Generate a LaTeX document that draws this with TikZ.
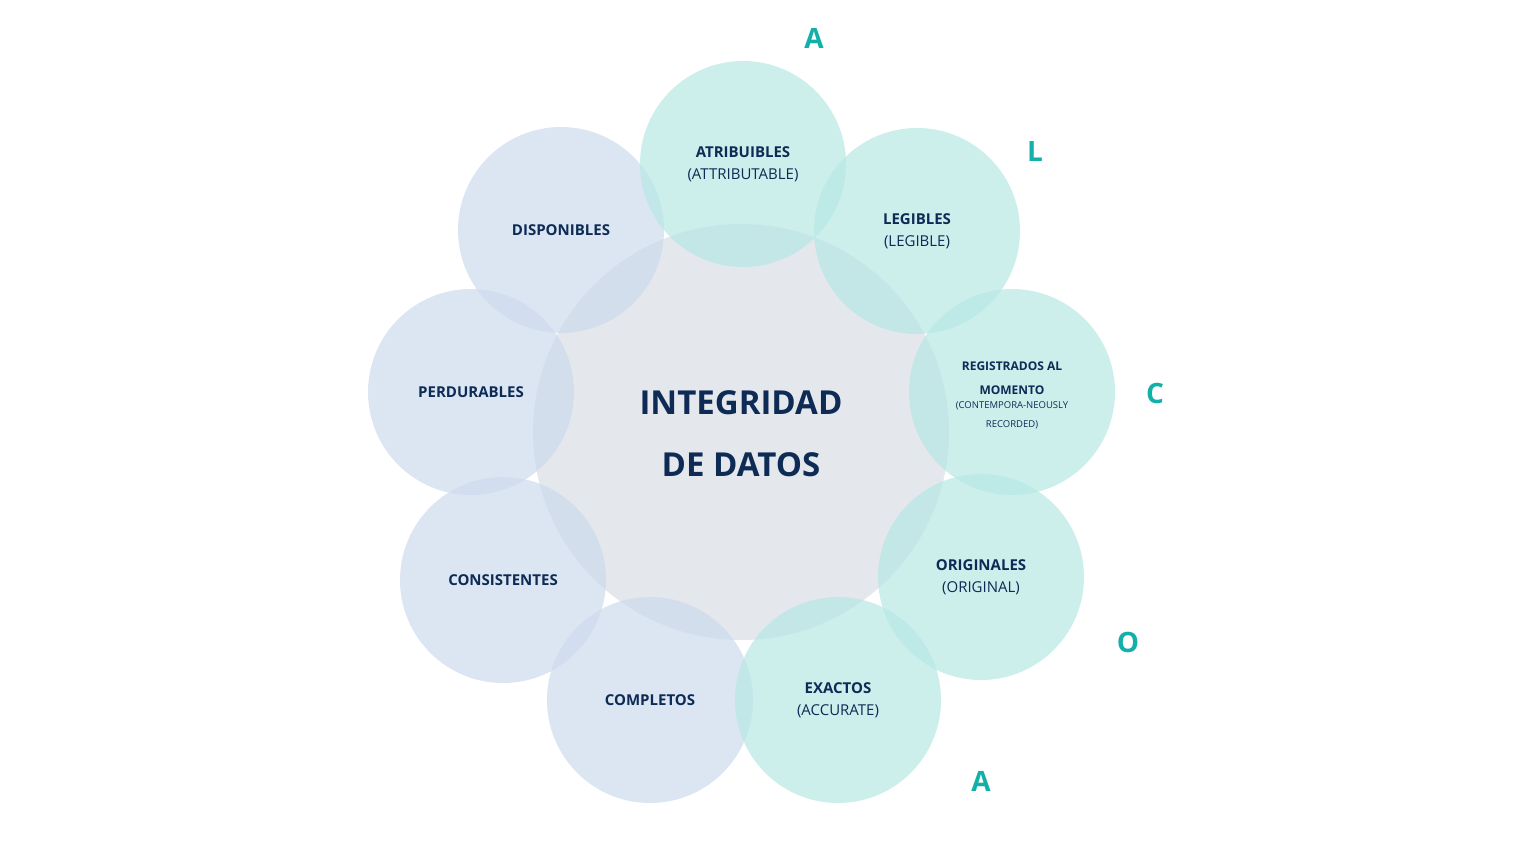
\documentclass[tikz,border=0pt]{standalone}
\usepackage{fontspec}
\setmainfont{Open Sans}
\definecolor{navy}{RGB}{13,43,85}
\definecolor{tealL}{RGB}{18,176,168}
\definecolor{bfill}{RGB}{205,219,238}
\definecolor{tfill}{RGB}{182,232,228}
\definecolor{gfill}{RGB}{228,231,236}
\begin{document}
\begin{tikzpicture}[x=1pt,y=-1pt,
  petal/.style={circle,minimum size=206pt,inner sep=0pt,fill opacity=0.7,text opacity=1,text=navy,align=center,font=\fontsize{15}{22}\selectfont},
  bp/.style={petal,fill=bfill},
  tp/.style={petal,fill=tfill},
  letter/.style={text=tealL,font=\bfseries\fontsize{28}{30}\selectfont}]
\useasboundingbox (0,0) rectangle (1536,865);
\node[circle,minimum size=416pt,fill=gfill,inner sep=0pt] (core) at (741,432) {};
\node[bp] (disp) at (561,230) {\textbf{DISPONIBLES}};
\node[bp] (perd) at (471,392) {\textbf{PERDURABLES}};
\node[bp] (cons) at (503,580) {\textbf{CONSISTENTES}};
\node[bp] (comp) at (650,700) {\textbf{COMPLETOS}};
\node[tp] (atri) at (743,164) {\textbf{ATRIBUIBLES}\\(ATTRIBUTABLE)};
\node[tp] (legi) at (917,231) {\textbf{LEGIBLES}\\(LEGIBLE)};
\node[tp] (regi) at (1012,392) {};
\node[tp] (orig) at (981,577) {\textbf{ORIGINALES}\\(ORIGINAL)};
\node[tp] (exac) at (838,700) {\textbf{EXACTOS}\\(ACCURATE)};
\node[text=navy,align=center,font=\fontsize{12}{24}\selectfont\bfseries] (regt) at (1012,378) {REGISTRADOS AL\\MOMENTO};
\node[text=navy,align=center,font=\fontsize{9.5}{19}\selectfont,anchor=north] (regs) at (1012,398) {(CONTEMPORA-NEOUSLY\\RECORDED)};
\node[text=navy,align=center,font=\bfseries\fontsize{33}{62}\selectfont] (title) at (741,434) {INTEGRIDAD\\DE DATOS};
\node[letter] (l1) at (814,38) {A};
\node[letter] (l2) at (1035,152) {L};
\node[letter] (l3) at (1155,393) {C};
\node[letter] (l4) at (1128,642) {O};
\node[letter] (l5) at (981,781) {A};
\end{tikzpicture}
\end{document}
